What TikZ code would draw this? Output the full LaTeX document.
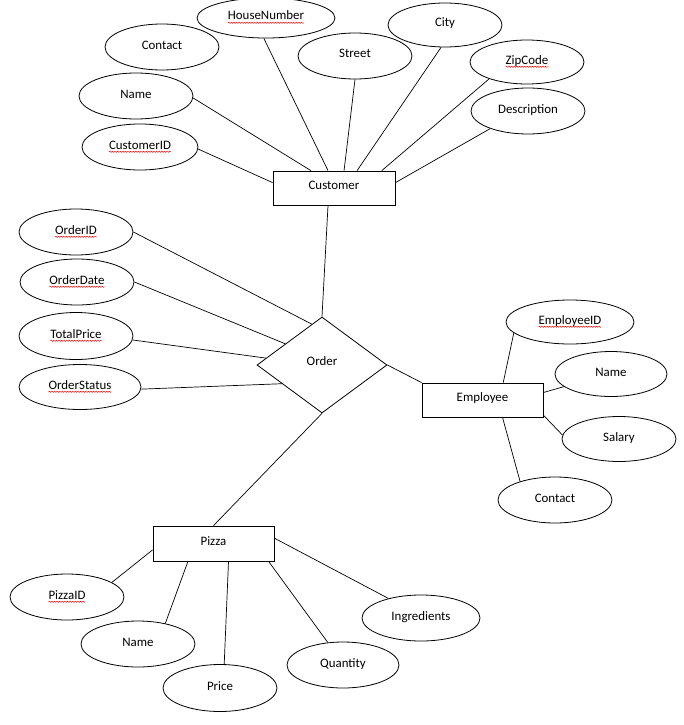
\documentclass[tikz,border=0pt]{standalone}
\usepackage{fontspec}
\setmainfont{Carlito}
\usetikzlibrary{shapes.geometric, decorations.pathmorphing}

% red wavy mark under some labels
\newlength\spellw
\newcommand\spellmark[1]{\settowidth\spellw{#1}#1\tikz[overlay, baseline=0pt]\draw[red, line width=0.5pt, decorate, decoration={snake, amplitude=0.6pt, segment length=2.6pt}] (-\spellw,-2.8pt) -- (0pt,-2.8pt);}

\tikzset{
  attr/.style={draw, ellipse, line width=0.8pt, minimum width=114pt, minimum height=46pt, inner sep=0pt, text height=8.5pt, text depth=4.5pt},
  entity/.style={draw, rectangle, line width=0.8pt, minimum width=122pt, minimum height=34pt, inner sep=0pt, text height=8.5pt, text depth=5pt},
  rel/.style={draw, diamond, line width=0.8pt, minimum width=130pt, minimum height=96pt, inner sep=0pt, text height=8.5pt, text depth=8pt},
  link/.style={line width=0.7pt}
}

\begin{document}
\begin{tikzpicture}[x=1pt, y=-1pt, font=\fontsize{12.9}{15}\selectfont]
  \useasboundingbox (0,0) rectangle (683,725);

  % Customer and its attributes
  \node[entity] (customer) at (334,188) {Customer};
  \node[attr, minimum width=138pt, minimum height=40pt] (housenum) at (266,18) {\spellmark{HouseNumber}};
  \node[attr] (ccontact) at (162,47) {Contact};
  \node[attr] (cname) at (136,96) {Name};
  \node[attr, minimum width=116pt] (custid) at (140,147) {\spellmark{CustomerID}};
  \node[attr] (street) at (355,56) {Street};
  \node[attr, minimum height=44pt] (city) at (445,25) {City};
  \node[attr, minimum height=44pt] (zip) at (527,62) {\spellmark{ZipCode}};
  \node[attr] (desc) at (528,111) {Description};

  % Order and its attributes
  \node[rel] (order) at (322,365) {Order};
  \node[attr] (orderid) at (76,232) {\spellmark{OrderID}};
  \node[attr] (orderdate) at (77,282) {\spellmark{OrderDate}};
  \node[attr, minimum height=47pt] (totalprice) at (76,336) {\spellmark{TotalPrice}};
  \node[attr, minimum width=122pt, minimum height=45pt] (orderstatus) at (80,387) {\spellmark{OrderStatus}};

  % Employee and its attributes
  \node[entity, minimum width=121pt] (employee) at (482.5,400) {Employee};
  \node[attr, minimum width=128pt, minimum height=44pt] (empid) at (570,322) {\spellmark{EmployeeID}};
  \node[attr, minimum width=112pt, minimum height=45pt] (ename) at (611,374) {Name};
  \node[attr, minimum height=45pt] (salary) at (619,439) {Salary};
  \node[attr] (econtact) at (555,500) {Contact};

  % Pizza and its attributes
  \node[entity, minimum width=121pt, minimum height=35pt] (pizza) at (213.5,543.5) {Pizza};
  \node[attr] (pizzaid) at (67,597) {\spellmark{PizzaID}};
  \node[attr] (pname) at (138,644) {Name};
  \node[attr, minimum height=47pt] (price) at (220,688) {Price};
  \node[attr, minimum width=112pt] (quantity) at (343,665) {Quantity};
  \node[attr, minimum width=118pt] (ingred) at (421,618) {Ingredients};

  % Customer links
  \draw[link] (housenum.264) -- (customer.109);
  \draw[link] (cname.358) -- (customer.143);
  \draw[link] (custid.358) -- (customer.175);
  \draw[link] (street.270) -- (customer.60);
  \draw[link] (city.260) -- (customer.37);
  \draw[link] (zip.204) -- (customer.20);
  \draw[link] (desc.205) -- (customer.5);

  % Order links
  \draw[link] (customer.251) -- (order.north);
  \draw[link] (orderid.east) -- (order.104);
  \draw[link] (orderdate.east) -- (order.150);
  \draw[link] (totalprice.356) -- (order.173);
  \draw[link] (orderstatus.358) -- (order.205);
  \draw[link] (order.east) -- (employee.north west);
  \draw[link] (order.south) -- (pizza.north);

  % Employee links
  \draw[link] (empid.191) -- (employee.40);
  \draw[link] (ename.195) -- (employee.7);
  \draw[link] (salary.176) -- (employee.346);
  \draw[link] (econtact.152) -- (employee.319);

  % Pizza links
  \draw[link] (pizzaid.18) -- (pizza.186);
  \draw[link] (pname.37) -- (pizza.215);
  \draw[link] (price.80) -- (pizza.310);
  \draw[link] (quantity.124) -- (pizza.342);
  \draw[link] (ingred.149) -- (pizza.5);
\end{tikzpicture}
\end{document}
